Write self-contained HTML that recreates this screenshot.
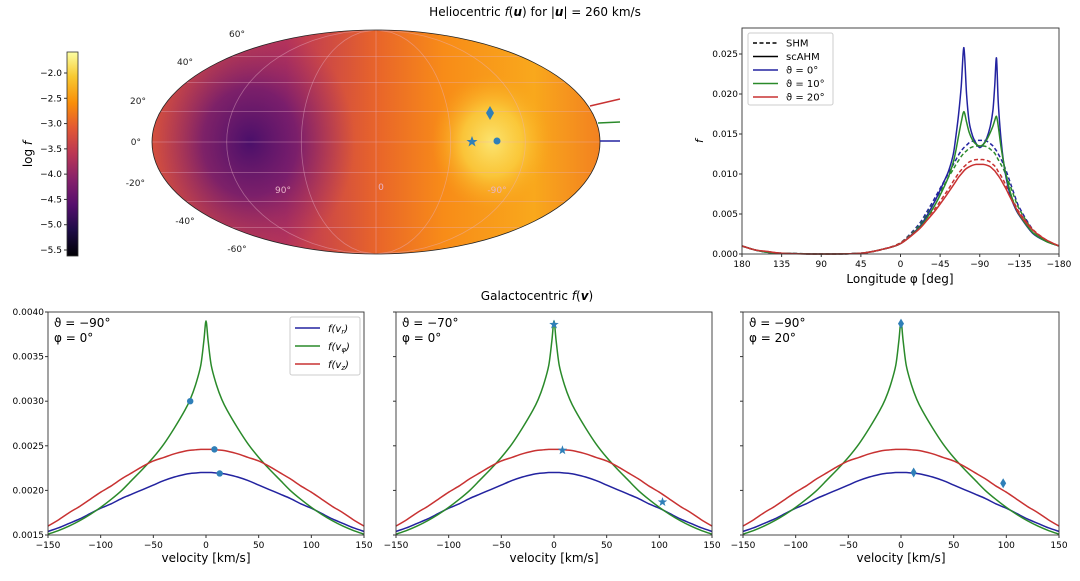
<!DOCTYPE html>
<html><head><meta charset="utf-8">
<style>
body{margin:0;background:#fff;}
svg{font-family:"DejaVu Sans","Liberation Sans",sans-serif;}
</style></head>
<body>
<svg id="fig" width="1080" height="576" viewBox="0 0 1080 576" xmlns="http://www.w3.org/2000/svg">
<defs>
<linearGradient id="cbar" x1="0" y1="1" x2="0" y2="0">
<stop offset="0" stop-color="#000004"/><stop offset="0.13" stop-color="#1f0c48"/><stop offset="0.25" stop-color="#550f6d"/><stop offset="0.38" stop-color="#88226a"/><stop offset="0.5" stop-color="#ba3655"/><stop offset="0.63" stop-color="#e35933"/><stop offset="0.75" stop-color="#f98e09"/><stop offset="0.88" stop-color="#f8c931"/><stop offset="1" stop-color="#fcffa4"/>
</linearGradient>
<linearGradient id="mapbase" x1="0" y1="0" x2="1" y2="0">
<stop offset="0" stop-color="#dc5538"/><stop offset="0.3" stop-color="#b8345a"/><stop offset="0.5" stop-color="#e8642a"/><stop offset="0.65" stop-color="#f88c18"/><stop offset="0.85" stop-color="#f9a81c"/><stop offset="1" stop-color="#f28020"/>
</linearGradient>
<radialGradient id="purp" cx="0.5" cy="0.5" r="0.5">
<stop offset="0" stop-color="#4a0f6a" stop-opacity="1"/><stop offset="0.45" stop-color="#6a1870" stop-opacity="0.8"/><stop offset="1" stop-color="#9a2a65" stop-opacity="0"/>
</radialGradient>
<radialGradient id="yell" cx="0.5" cy="0.5" r="0.5">
<stop offset="0" stop-color="#fbe470" stop-opacity="1"/><stop offset="0.5" stop-color="#fbd040" stop-opacity="0.8"/><stop offset="1" stop-color="#f9a81c" stop-opacity="0"/>
</radialGradient>
<clipPath id="ell"><ellipse cx="376" cy="142" rx="224" ry="112"/></clipPath>
</defs>

<text x="535" y="16" font-size="12" text-anchor="middle">Heliocentric <tspan font-style="italic">f</tspan>(<tspan font-weight="bold" font-style="italic">u</tspan>) for |<tspan font-weight="bold" font-style="italic">u</tspan>| = 260 km/s</text>
<text x="537" y="300" font-size="12" text-anchor="middle">Galactocentric <tspan font-style="italic">f</tspan>(<tspan font-weight="bold" font-style="italic">v</tspan>)</text>

<g>
<rect x="67" y="52" width="11" height="204" fill="url(#cbar)" stroke="#333" stroke-width="0.8"/>
</g>
<g id="cbticks"></g>
<text transform="translate(32,154) rotate(-90)" font-size="12" text-anchor="middle">log <tspan font-style="italic">f</tspan></text>

<g clip-path="url(#ell)">
<rect x="150" y="28" width="452" height="228" fill="url(#mapbase)"/>
<ellipse cx="250" cy="142" rx="105" ry="120" fill="url(#purp)"/>
<ellipse cx="492" cy="142" rx="60" ry="68" fill="url(#yell)"/>
<g id="grid" stroke="#e8b4c8" stroke-opacity="0.45" stroke-width="0.8" fill="none"></g>
</g>
<ellipse cx="376" cy="142" rx="224" ry="112" fill="none" stroke="#222" stroke-width="0.8"/>
<g font-size="9" fill="#222">
<text x="237" y="37" text-anchor="middle">60°</text>
<text x="185" y="65" text-anchor="middle">40°</text>
<text x="146" y="104" text-anchor="end">20°</text>
<text x="141" y="145" text-anchor="end">0°</text>
<text x="145" y="186" text-anchor="end">-20°</text>
<text x="185" y="224" text-anchor="middle">-40°</text>
<text x="237" y="252" text-anchor="middle">-60°</text>
</g>
<g font-size="9" fill="#e8b4c8">
<text x="283" y="193" text-anchor="middle">90°</text>
<text x="381" y="190" text-anchor="middle">0</text>
<text x="497" y="193" text-anchor="middle">-90°</text>
</g>
<g fill="#2f7fb8">
<path d="M472 136 L473.5 140 L477.5 140 L474.3 142.5 L475.5 146.5 L472 144 L468.5 146.5 L469.7 142.5 L466.5 140 L470.5 140 Z"/>
<circle cx="497" cy="141" r="3.5"/>
<path d="M490 106 L494 113 L490 120 L486 113 Z"/>
</g>
<line x1="590" y1="106" x2="620" y2="99" stroke="#c83232" stroke-width="1.5"/>
<line x1="598" y1="123" x2="620" y2="122" stroke="#2a8a2a" stroke-width="1.5"/>
<line x1="600" y1="141" x2="620" y2="141" stroke="#2323a0" stroke-width="1.5"/>

<g id="topright"></g>
<g id="p1"></g><g id="p2"></g><g id="p3"></g>
</svg>
<script>
const lonDeg=[180,165,150,135,90,45,20,0,-20,-30,-40,-50,-55,-60,-63,-66,-69,-72,-75,-78,-82,-86,-90,-94,-98,-102,-105,-107,-109,-111,-114,-117,-120,-125,-130,-135,-150,-165,-180];
const blueSolid=[0.0010,0.0005,0.0002,0.0001,0.0,0.0001,0.0006,0.0013,0.0032,0.0048,0.0068,0.0092,0.0105,0.0125,0.0148,0.0175,0.021,0.0258,0.020,0.0165,0.0147,0.0138,0.0133,0.0137,0.0145,0.016,0.018,0.021,0.0245,0.019,0.0145,0.0115,0.0095,0.0072,0.0058,0.0048,0.0026,0.0016,0.0010];
const greenSolid=[0.0010,0.0005,0.0002,0.0001,0.0,0.0001,0.0006,0.0013,0.0031,0.0045,0.0063,0.0085,0.0098,0.0115,0.013,0.0148,0.0165,0.0178,0.0165,0.0152,0.0142,0.0137,0.0135,0.0137,0.0143,0.0152,0.016,0.0167,0.0172,0.016,0.0135,0.0115,0.0098,0.0076,0.006,0.0049,0.0027,0.0016,0.0010];
const redSolid=[0.0010,0.0005,0.0003,0.0001,0.0,0.0001,0.0006,0.0013,0.0030,0.0042,0.0055,0.0070,0.0078,0.0086,0.0091,0.0096,0.0100,0.0104,0.0107,0.0109,0.0111,0.0112,0.0112,0.0112,0.0111,0.0109,0.0106,0.0104,0.0101,0.0098,0.0093,0.0087,0.0081,0.0070,0.0060,0.0050,0.0030,0.0018,0.0010];
const blueDash=[0.0010,0.0005,0.0002,0.0001,0.0,0.0001,0.0006,0.0014,0.0036,0.0053,0.0072,0.0092,0.0102,0.0112,0.0118,0.0124,0.0129,0.0133,0.0136,0.0139,0.0141,0.0142,0.0142,0.0142,0.0141,0.0138,0.0135,0.0132,0.0129,0.0125,0.0119,0.0112,0.0104,0.0088,0.0072,0.0058,0.0031,0.0017,0.0010];
const greenDash=[0.0010,0.0005,0.0002,0.0001,0.0,0.0001,0.0006,0.0014,0.0034,0.0050,0.0068,0.0087,0.0097,0.0106,0.0112,0.0117,0.0122,0.0126,0.0129,0.0132,0.0134,0.0135,0.0135,0.0135,0.0134,0.0131,0.0128,0.0126,0.0122,0.0118,0.0112,0.0106,0.0098,0.0084,0.0069,0.0056,0.0030,0.0017,0.0010];
const redDash=[0.0010,0.0005,0.0003,0.0001,0.0,0.0001,0.0006,0.0014,0.0032,0.0045,0.0058,0.0074,0.0082,0.0091,0.0096,0.0101,0.0105,0.0109,0.0112,0.0115,0.0117,0.0118,0.0118,0.0118,0.0117,0.0115,0.0112,0.0110,0.0107,0.0103,0.0098,0.0092,0.0085,0.0073,0.0062,0.0052,0.0031,0.0018,0.0010];
const trXTicks=[180,135,90,45,0,-45,-90,-135,-180];
const trXTickLabels=["180","135","90","45","0","\u221245","\u221290","\u2212135","\u2212180"];
const trYTicks=[0,0.005,0.010,0.015,0.020,0.025];
const trYTickLabels=["0.000","0.005","0.010","0.015","0.020","0.025"];
const vel=[-150,-140,-130,-120,-110,-100,-90,-80,-70,-60,-50,-40,-30,-20,-15,-10,-5,-2,0,2,5,10,15,20,30,40,50,60,70,80,90,100,110,120,130,140,150];
const fvr=[0.00154,0.00158,0.00163,0.00168,0.00174,0.00180,0.00185,0.00191,0.00196,0.00201,0.00206,0.00211,0.00215,0.00218,0.00219,0.002195,0.0022,0.0022,0.0022,0.0022,0.0022,0.002195,0.00219,0.00218,0.00215,0.00211,0.00206,0.00201,0.00196,0.00191,0.00185,0.00180,0.00174,0.00168,0.00163,0.00158,0.00154];
const fvphi=[0.00151,0.00155,0.00160,0.00166,0.00173,0.00181,0.00190,0.00200,0.00212,0.00224,0.00237,0.00252,0.00270,0.00290,0.00302,0.00318,0.00340,0.00368,0.00390,0.00368,0.00340,0.00318,0.00302,0.00290,0.00270,0.00252,0.00237,0.00224,0.00212,0.00200,0.00190,0.00181,0.00173,0.00166,0.00160,0.00155,0.00151];
const fvz=[0.00160,0.00167,0.00175,0.00182,0.00190,0.00198,0.00205,0.00213,0.00220,0.00227,0.00233,0.00237,0.00241,0.00244,0.00245,0.002455,0.00246,0.00246,0.00246,0.00246,0.00246,0.002455,0.00245,0.00244,0.00241,0.00237,0.00233,0.00227,0.00220,0.00213,0.00205,0.00198,0.00190,0.00182,0.00175,0.00167,0.00160];
const p1Markers=[[-15,0.0030],[8,0.00246],[13,0.00219]];
const p2Markers=[[0,0.00386],[8,0.00245],[103,0.00187]];
const p3Markers=[[0,0.00387],[12,0.00220],[97,0.00208]];
const bXTicks=[-150,-100,-50,0,50,100,150];
const bXTickLabels=["\u2212150","\u2212100","\u221250","0","50","100","150"];
const bYTicks=[0.0015,0.0020,0.0025,0.0030,0.0035,0.0040];
const bYTickLabels=["0.0015","0.0020","0.0025","0.0030","0.0035","0.0040"];
const cbTicks=[-2.0,-2.5,-3.0,-3.5,-4.0,-4.5,-5.0,-5.5];

const NS="http://www.w3.org/2000/svg";
function mk(tag,attrs,parent){const e=document.createElementNS(NS,tag);for(const k in attrs)e.setAttribute(k,attrs[k]);parent.appendChild(e);return e;}
const BLUE="#2323a0",GREEN="#2a8a2a",RED="#c83232",MK="#2f7fb8";

const cbg=document.getElementById('cbticks');
const cbY=v=>73+(v-(-2.0))/(-5.5-(-2.0))*(250-73);
cbTicks.forEach(v=>{const y=cbY(v);
 const l=mk('line',{x1:64,x2:67,y1:y,y2:y,stroke:'#333'},cbg);
 
 
 const t=mk('text',{x:62,y:y+3,'font-size':9,'text-anchor':'end'},cbg);
 t.textContent=v.toFixed(1).replace('-','\u2212');
 
 
});

const grid=document.getElementById('grid');
function moll(lon,lat){let phi=lat*Math.PI/180,th=phi;for(let i=0;i<20;i++){const f=2*th+Math.sin(2*th)-Math.PI*Math.sin(phi);const d=2+2*Math.cos(2*th);if(Math.abs(d)<1e-9)break;th-=f/d;}
 return [376-224*(lon/180)*Math.cos(th),142-112*Math.sin(th)];}
[-120,-60,0,60,120].forEach(lon=>{let d='';for(let lat=-90;lat<=90;lat+=5){const p=moll(lon,lat);d+=(lat==-90?'M':'L')+p[0].toFixed(1)+' '+p[1].toFixed(1);}
 const pth=mk('path',{d:d},grid);
 
 });
[-60,-40,-20,0,20,40,60].forEach(lat=>{const a=moll(180,lat),b=moll(-180,lat);
 const ln=mk('line',{x1:a[0],y1:a[1],x2:b[0],y2:b[1]},grid);
 
 });

function axes(g,box,xd,yd){
 const sx=v=>box.x0+(v-xd[0])/(xd[1]-xd[0])*(box.x1-box.x0);
 const sy=v=>box.y1-(v-yd[0])/(yd[1]-yd[0])*(box.y1-box.y0);
 return {sx,sy};
}
function line(g,xs,ys,sx,sy,color,dash,name){const P=xs.map((x,i)=>[sx(x),sy(ys[i])]);
 let d='M'+P[0][0].toFixed(2)+' '+P[0][1].toFixed(2);
 for(let i=0;i<P.length-1;i++){const p0=P[i-1]||P[i],p1=P[i],p2=P[i+1],p3=P[i+2]||P[i+1];
  const t=0.15;
  const c1=[p1[0]+(p2[0]-p0[0])*t,p1[1]+(p2[1]-p0[1])*t],c2=[p2[0]-(p3[0]-p1[0])*t,p2[1]-(p3[1]-p1[1])*t];
  d+='C'+c1[0].toFixed(2)+' '+c1[1].toFixed(2)+' '+c2[0].toFixed(2)+' '+c2[1].toFixed(2)+' '+p2[0].toFixed(2)+' '+p2[1].toFixed(2);}
 const p=mk('path',{d:d,fill:'none',stroke:color,'stroke-width':1.5,'stroke-linejoin':'round'},g);
 if(dash)p.setAttribute('stroke-dasharray','4,2.5');
 
 }
function frame(g,box){const r=mk('rect',{x:box.x0,y:box.y0,width:box.x1-box.x0,height:box.y1-box.y0,fill:'none',stroke:'#333','stroke-width':0.9},g);
 
 }
function xticks(g,box,ticks,labels,sx){ticks.forEach((v,i)=>{const x=sx(v);
 const l=mk('line',{x1:x,x2:x,y1:box.y1,y2:box.y1+3,stroke:'#333'},g);
 
 
 const t=mk('text',{x:x,y:box.y1+13,'font-size':9,'text-anchor':'middle'},g);t.textContent=labels[i];
 
 });}
function yticks(g,box,ticks,labels,sy,show){ticks.forEach((v,i)=>{const y=sy(v);
 const l=mk('line',{x1:box.x0-3,x2:box.x0,y1:y,y2:y,stroke:'#333'},g);
 
 
 if(show){const t=mk('text',{x:box.x0-4,y:y+3,'font-size':9,'text-anchor':'end'},g);t.textContent=labels[i];
 
 }});}

(function(){const g=document.getElementById('topright');
 const box={x0:742,x1:1059,y0:28,y1:254};
 const {sx,sy}=axes(g,box,[180,-180],[0,0.02825]);
 line(g,lonDeg,blueDash,sx,sy,BLUE,true,'shm-theta0-line');
 line(g,lonDeg,greenDash,sx,sy,GREEN,true,'shm-theta10-line');
 line(g,lonDeg,redDash,sx,sy,RED,true,'shm-theta20-line');
 line(g,lonDeg,blueSolid,sx,sy,BLUE,false,'scahm-theta0-line');
 line(g,lonDeg,greenSolid,sx,sy,GREEN,false,'scahm-theta10-line');
 line(g,lonDeg,redSolid,sx,sy,RED,false,'scahm-theta20-line');
 frame(g,box);
 xticks(g,box,trXTicks,trXTickLabels,sx);
 yticks(g,box,trYTicks,trYTickLabels,sy,true);
 const xl=mk('text',{x:900,y:283,'font-size':12,'text-anchor':'middle'},g);xl.textContent='Longitude \u03c6 [deg]';
 
 
 const yl=mk('text',{x:0,y:0,'font-size':11,'font-style':'italic','text-anchor':'middle',transform:'translate(703,141) rotate(-90)'},g);yl.textContent='f';
 
 
 const lg=mk('g',{},g);
 
 
 mk('rect',{x:748,y:33,width:85,height:72,rx:2,fill:'#fff','fill-opacity':0.85,stroke:'#ccc'},lg);
 const items=[['SHM','#000',true],['scAHM','#000',false],['\u03d1 = 0\u00b0',BLUE,false],['\u03d1 = 10\u00b0',GREEN,false],['\u03d1 = 20\u00b0',RED,false]];
 items.forEach((it,i)=>{const y=43+i*13.5;
  const e=mk('g',{},lg);
  
  
  const l=mk('line',{x1:753,x2:778,y1:y,y2:y,stroke:it[1],'stroke-width':1.5},e);if(it[2])l.setAttribute('stroke-dasharray','4,2.5');
  const t=mk('text',{x:786,y:y+3.5,'font-size':10},e);t.textContent=it[0];});
})();

function panel(id,x0,markers,shape,th,ph,showY,legend){const g=document.getElementById(id);
 const box={x0:x0,x1:x0+316,y0:312,y1:535};
 const {sx,sy}=axes(g,box,[-150,150],[0.0015,0.0040]);
 line(g,vel,fvr,sx,sy,BLUE,false,'f-vr-line');
 line(g,vel,fvphi,sx,sy,GREEN,false,'f-vphi-line');
 line(g,vel,fvz,sx,sy,RED,false,'f-vz-line');
 markers.forEach(m=>{const x=sx(m[0]),y=sy(m[1]);let e;
  if(shape==='circle')e=mk('circle',{cx:x,cy:y,r:3.2,fill:MK},g);
  else if(shape==='diamond')e=mk('path',{d:`M${x} ${y-5}L${x+3} ${y}L${x} ${y+5}L${x-3} ${y}Z`,fill:MK},g);
  else{let d='';for(let k=0;k<10;k++){const r=k%2?2:5,a=-Math.PI/2+k*Math.PI/5;d+=(k?'L':'M')+(x+r*Math.cos(a)).toFixed(2)+' '+(y+r*Math.sin(a)).toFixed(2);}e=mk('path',{d:d+'Z',fill:MK},g);}
  
  });
 frame(g,box);
 xticks(g,box,bXTicks,bXTickLabels,sx);
 yticks(g,box,bYTicks,bYTickLabels,sy,showY);
 const xl=mk('text',{x:x0+158,y:562,'font-size':12,'text-anchor':'middle'},g);xl.textContent='velocity [km/s]';
 
 
 const t1=mk('text',{x:x0+6,y:327,'font-size':12},g);t1.textContent='\u03d1 = '+th+'\u00b0';
 
 
 const t2=mk('text',{x:x0+6,y:342,'font-size':12},g);t2.textContent='\u03c6 = '+ph+'\u00b0';
 
 
 if(legend){const lg=mk('g',{},g);
  
  
  mk('rect',{x:x0+242,y:317,width:70,height:58,rx:2,fill:'#fff',stroke:'#ccc'},lg);
  [['v','r',BLUE],['v','\u03c6',GREEN],['v','z',RED]].forEach((it,i)=>{const y=328+i*18;
   const e=mk('g',{},lg);
   
   
   mk('line',{x1:x0+247,x2:x0+272,y1:y,y2:y,stroke:it[2],'stroke-width':1.5},e);
   const t=mk('text',{x:x0+280,y:y+4,'font-size':10,'font-style':'italic'},e);
   t.innerHTML='f(v<tspan font-size="7" dy="2">'+it[1]+'</tspan><tspan dy="-2">)</tspan>';});}
}
panel('p1',48,p1Markers,'circle','\u221290','0',true,true);
panel('p2',396,p2Markers,'star','\u221270','0',false,false);
panel('p3',743,p3Markers,'diamond','\u221290','20',false,false);
</script>
</body></html>
